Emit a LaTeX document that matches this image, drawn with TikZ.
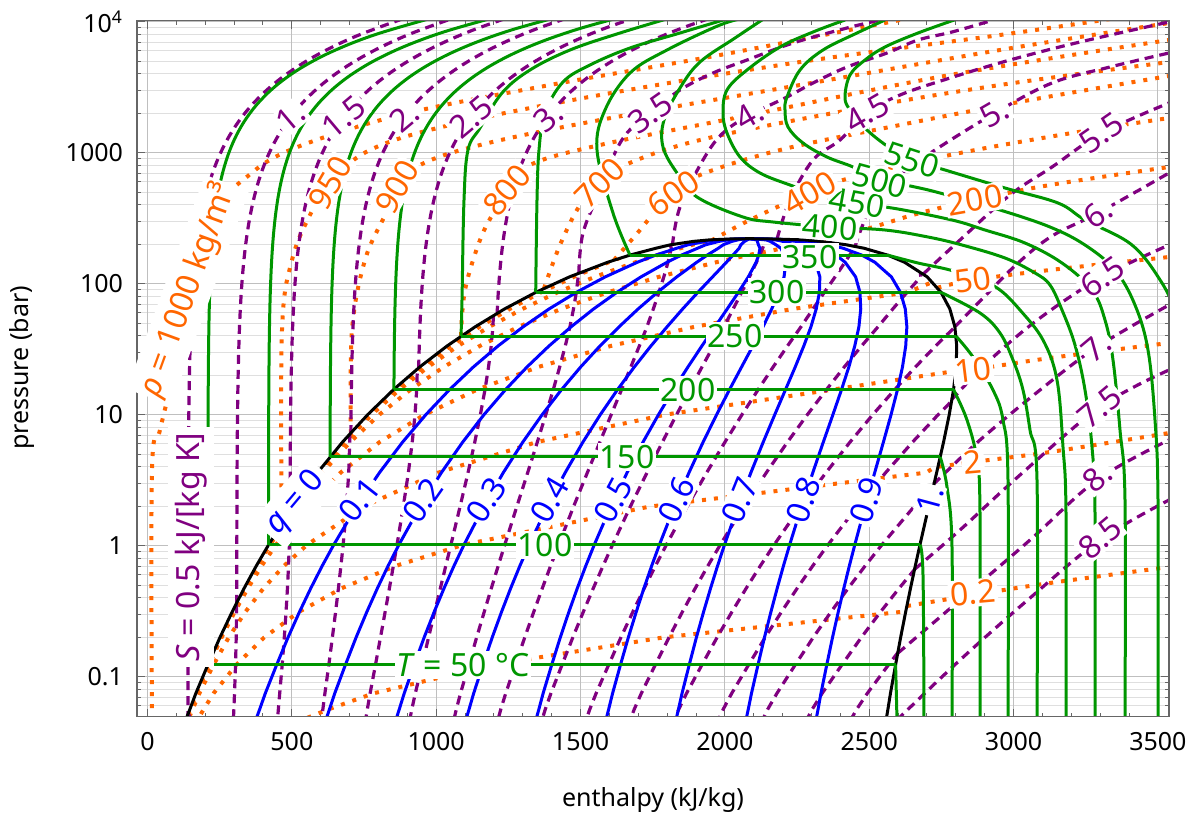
\documentclass[tikz,border=0pt]{standalone}
\usepackage{fontspec}
\setmainfont{Noto Sans}
\definecolor{tgreen}{RGB}{0,150,0}
\definecolor{spurple}{RGB}{128,0,128}
\definecolor{rorange}{RGB}{255,102,0}
% enthalpy -> x pixel, pressure -> y pixel
\newcommand\hX[1]{147.5+0.2887*(#1)}
\newcommand\pY[1]{545.7-131*log10(#1)}
% saturation table: T/p/hf/hg/sf/sg/vf/vg
\newcommand\satA{32/0.04760/134.0/2559.0/0.4648/8.3960/0.001005/29.52,
35/0.05629/146.6/2564.6/0.5049/8.3517/0.001006/25.20,
40/0.07384/167.5/2573.5/0.5724/8.2555/0.001008/19.52,
50/0.12352/209.3/2591.3/0.7038/8.0748/0.001012/12.03,
60/0.19946/251.1/2608.8/0.8313/7.9081/0.001017/7.667,
70/0.31201/293.0/2626.1/0.9551/7.7540/0.001023/5.040,
80/0.47414/334.9/2643.0/1.0756/7.6111/0.001029/3.405,
90/0.70182/376.9/2659.5/1.1929/7.4781/0.001036/2.359,
100/1.0142/419.2/2675.6/1.3072/7.3541/0.001043/1.672,
120/1.9867/503.8/2705.9/1.5279/7.1291/0.001060/0.8915,
140/3.6154/589.2/2733.5/1.7392/6.9272/0.001080/0.5085,
160/6.1823/675.5/2757.4/1.9426/6.7477/0.001102/0.3071,
180/10.028/763.1/2777.2/2.1392/6.5841/0.001127/0.1939,
200/15.549/852.3/2792.0/2.3305/6.4302/0.001157/0.1272,
220/23.196/943.6/2801.1/2.5177/6.2852/0.001190/0.08609,
240/33.469/1037.6/2803.0/2.7020/6.1423/0.001229/0.05967,
260/46.88/1135.0/2796.6/2.8849/5.9990/0.001276/0.04219,
280/64.17/1236.7/2779.2/3.0680/5.8571/0.001332/0.03016,
300/85.88/1344.8/2748.7/3.2548/5.7059/0.001404/0.02166,
320/112.79/1461.8/2700.6/3.4491/5.5372/0.001499/0.01548,
340/145.94/1594.5/2622.0/3.6601/5.3356/0.001638/0.01080,
350/165.29/1670.9/2563.6/3.7784/5.2110/0.001740/0.008813,
360/186.66/1761.5/2481.5/3.9167/5.0536/0.001895/0.006945,
365/198.3/1812.0/2420.0/4.0012/4.9398/0.002017/0.0058,
370/210.44/1890.7/2334.5/4.1112/4.8012/0.002215/0.004953,
372/215.9/1945.0/2276.0/4.18/4.72/0.00239/0.00436,
373.5/219.6/2020.0/2160.0/4.30/4.52/0.0027/0.0036}
\newcommand\vapA{373.5/219.6/2160, 372/215.9/2276, 370/210.44/2334.5,
365/198.3/2420, 360/186.66/2481.5, 350/165.29/2563.6, 340/145.94/2622.0,
320/112.79/2700.6, 300/85.88/2748.7, 280/64.17/2779.2, 260/46.88/2796.6,
240/33.469/2803.0, 220/23.196/2801.1, 200/15.549/2792.0, 180/10.028/2777.2,
160/6.1823/2757.4, 140/3.6154/2733.5, 120/1.9867/2705.9, 100/1.0142/2675.6,
90/0.70182/2659.5, 80/0.47414/2643.0, 70/0.31201/2626.1, 60/0.19946/2608.8,
50/0.12352/2591.3, 40/0.07384/2573.5, 35/0.05629/2564.6, 32/0.04760/2559.0}
\begin{document}
\begin{tikzpicture}[x=0.5pt,y=-0.5pt,
    isoT/.style={draw=tgreen,line width=1.5pt},
    isoS/.style={draw=spurple,line width=1.6pt,dash pattern=on 4.5pt off 3pt},
    isoR/.style={draw=rorange,line width=2pt,dash pattern=on 2pt off 4pt},
    isoQ/.style={draw=blue,line width=1.5pt},
    satline/.style={draw=black,line width=1.5pt},
    lab/.style={fill=white,inner sep=1pt,font=\fontsize{16}{16}\selectfont},
    tlab/.style={lab,text=tgreen},
    slab/.style={lab,text=spurple},
    rlab/.style={lab,text=rorange},
    qlab/.style={lab,text=blue},
    ticklab/.style={font=\fontsize{12.5}{13}\selectfont},
    tick/.style={draw=gray!80!black,line width=0.5pt},
    smooth,tension=0.6]
\useasboundingbox (0,0) rectangle (1200,820);
\coordinate (crit) at ({\hX{2084.3}},{\pY{220.64}});

\begin{scope}
\clip (137,20.7) rectangle (1169,716.7);
% grid
\foreach \e in {-2,...,3} \foreach \m in {2,...,9}
  \draw[gray!25,line width=0.4pt] (137,{545.7-131*(log10(\m)+\e)}) -- (1169,{545.7-131*(log10(\m)+\e)});
\foreach \e in {-1,...,4}
  \draw[gray!50,line width=0.5pt] (137,{545.7-131*\e}) -- (1169,{545.7-131*\e});
\foreach \h in {0,500,...,3500}
  \draw[gray!50,line width=0.5pt] ({\hX{\h}},20.7) -- ({\hX{\h}},716.7);
% ticks
\foreach \h in {0,100,...,3500}
  \draw[tick] ({\hX{\h}},716.7) -- ++(0,-4) ({\hX{\h}},20.7) -- ++(0,4);
\foreach \h in {0,500,...,3500}
  \draw[tick] ({\hX{\h}},716.7) -- ++(0,-8) ({\hX{\h}},20.7) -- ++(0,8);
\foreach \e in {-2,...,3} \foreach \m in {2,...,9}
  \draw[tick] (137,{545.7-131*(log10(\m)+\e)}) -- ++(4,0) (1169,{545.7-131*(log10(\m)+\e)}) -- ++(-4,0);
\foreach \e in {-1,...,4}
  \draw[tick] (137,{545.7-131*\e}) -- ++(8,0) (1169,{545.7-131*\e}) -- ++(-8,0);

% density, outside the dome
\draw[isoR] plot coordinates {(152,720) (152,470) (160,430) (172,380) (185,320) (200,260) (220,205) (243,180) (290,150) (400,115) (550,85) (720,55) (900,20)};
\draw[isoR] plot coordinates {(281.7,523.4) (282,330) (292,260) (310,215) (330,183) (370,150) (450,125) (600,95) (800,62) (1000,35) (1110,19)};
\draw[isoR] plot coordinates {(350.8,433.4) (352,330) (365,260) (385,215) (397,187) (420,165) (480,145) (600,120) (800,85) (1000,50) (1169,23)};
\draw[isoR] plot coordinates {(461,336.2) (465,290) (480,240) (495,210) (507,190) (530,165) (600,145) (750,115) (950,75) (1169,40)};
\draw[isoR] plot coordinates {(544,288.5) (560,245) (580,205) (600,183) (625,165) (700,140) (850,110) (1000,85) (1169,62)};
\draw[isoR] plot coordinates {(614,260) (640,230) (660,205) (673,193) (700,175) (780,150) (900,125) (1030,100) (1169,76)};
\draw[isoR] plot coordinates {(711.4,240.5) (740,225) (775,208) (810,193) (850,178) (950,155) (1060,135) (1169,118)};
\draw[isoR] plot coordinates {(822,241.4) (870,228) (920,213) (975,200) (1050,185) (1169,167)};
\draw[isoR] plot coordinates {(937.4,287.8) (973,280) (1050,270) (1169,257)};
\draw[isoR] plot coordinates {(955,374.4) (973,370) (1050,358) (1169,343)};
\draw[isoR] plot coordinates {(938,466.8) (973,462) (1050,452) (1169,433)};
\draw[isoR] plot coordinates {(907,606) (973,595) (1050,583) (1169,567)};

% entropy, outside the dome
\foreach \xa/\ya in {188/720, 236.7/603.9, 289.8/510.7, 350.2/434.2, 417.1/368.7, 493.7/314.7}
  \draw[isoS] plot[domain=\ya:18,samples=40] ({\xa+0.13*pow(10,0.8*(545.7-\x)/131)},\x);
\draw[isoS] plot coordinates {(578.8,273.3) (583,233) (600,190) (613,157) (627,133) (650,113) (680,90) (713,73) (747,60) (793,43) (847,28) (880,20)};
\draw[isoS] plot coordinates {(672.4,245.3) (680,207) (703,160) (723,133) (750,115) (787,97) (813,83) (847,67) (887,53) (918,40) (952,32) (990,21)};
\draw[isoS] plot coordinates {(777,239) (790,200) (813,160) (840,140) (867,113) (900,95) (950,78) (1010,60) (1080,42) (1169,22)};
\draw[isoS] plot coordinates {(855,246.8) (870,210) (900,175) (935,150) (995,113) (1052,83) (1110,67) (1169,53)};
\draw[isoS] plot coordinates {(923.5,273.8) (960,240) (1010,195) (1052,167) (1102,133) (1169,103)};
\draw[isoS] plot coordinates {(955,326.7) (988,293) (1018,263) (1052,236) (1098,213) (1169,173)};
\draw[isoS] plot coordinates {(951.5,399.8) (990,360) (1040,318) (1102,277) (1169,245)};
\draw[isoS] plot coordinates {(933.6,484.1) (980,440) (1040,390) (1097,347) (1169,305)};
\draw[isoS] plot coordinates {(914.6,569.3) (960,530) (1020,475) (1100,407) (1169,370)};
\draw[isoS] plot coordinates {(898,653) (960,600) (1030,540) (1097,480) (1169,440)};
\draw[isoS] plot coordinates {(897,720) (960,660) (1030,598) (1100,540) (1169,500)};

% inside the dome
\begin{scope}
\clip (0,820) \foreach \tc/\p/\hF/\hG/\sF/\sG/\vF/\vG in \satA {-- ({\hX{\hF}},{\pY{\p}})} -- (crit)
  \foreach \tc/\p/\hG in \vapA {-- ({\hX{\hG}},{\pY{\p}})} -- cycle;
\foreach \r in {950,900,800,700,600,400,200,50,10,2,0.2}
  \draw[isoR,sharp plot] (0,820) \foreach \tc/\p/\hF/\hG/\sF/\sG/\vF/\vG in \satA
    {-- ({\hX{\hF+max(-0.05,min(1.05,(1/\r-\vF)/(\vG-\vF)))*(\hG-\hF)}},{\pY{\p}})};
\foreach \s in {0.5,1,...,8.5}
  \draw[isoS,sharp plot] (0,820) \foreach \tc/\p/\hF/\hG/\sF/\sG/\vF/\vG in \satA
    {-- ({\hX{\hF+max(-0.05,min(1.05,(\s-\sF)/(\sG-\sF)))*(\hG-\hF)}},{\pY{\p}})};
\end{scope}

% quality
\foreach \q in {0.1,0.2,...,0.9}
  \draw[isoQ,sharp plot] (0,820) \foreach \tc/\p/\hF/\hG/\sF/\sG/\vF/\vG in \satA
    {-- ({\hX{\hF+\q*(\hG-\hF)}},{\pY{\p}})} -- (crit);

% saturation dome
\draw[satline,sharp plot] (0,820) \foreach \tc/\p/\hF/\hG/\sF/\sG/\vF/\vG in \satA {-- ({\hX{\hF}},{\pY{\p}})} -- (crit)
  \foreach \tc/\p/\hG in \vapA {-- ({\hX{\hG}},{\pY{\p}})};

% isotherms
\foreach \xa/\ya in {207.9/664.7, 268.5/544.9, 330/456.9, 393.6/389.6}
  \draw[isoT] plot[domain=\ya:18,samples=40] ({\xa+0.021*pow(10,(545.7-\x)/131)},\x);
\foreach \xa/\xb/\ya in {207.9/895.6/664.7, 268.5/920/544.9, 330/940.2/456.9, 393.6/953.5/389.6,
    461/956.1/336.2, 535.7/941.1/292.4, 630/887.6/255.1}
  \draw[isoT] (\xa,\ya) -- (\xb,\ya);
\draw[isoT] (895.6,664.7) -- (897,720);
\draw[isoT] plot coordinates {(920,544.9) (923,575) (924,720)};
\draw[isoT] plot coordinates {(940.2,456.9) (947,487) (952,547) (952,720)};
\draw[isoT] plot coordinates {(953.5,389.6) (967,420) (977,460) (980,513) (980,720)};
\draw[isoT] plot coordinates {(670,18) (620,33) (570,50) (530,70) (502,93) (480,128) (468,150) (464,200) (462,300) (461,336.2)};
\draw[isoT] plot coordinates {(956.1,336.2) (973,357) (993,390) (1003,420) (1008,480) (1008,720)};
\draw[isoT] plot coordinates {(730,18) (680,33) (630,48) (590,65) (563,82) (545,113) (539,150) (537,200) (535.7,292.4)};
\draw[isoT] plot coordinates {(941.1,292.4) (980,313) (1000,333) (1013,360) (1023,390) (1030,430) (1037,480) (1037,720)};
\draw[isoT] plot coordinates {(745,18) (720,25) (667,50) (630,73) (605,110) (597,150) (613,213) (630,255.1)};
\draw[isoT] plot coordinates {(887.6,255.1) (918,263) (950,270) (980,280) (1000,290) (1020,310) (1043,340) (1057,380) (1063,447) (1066,513) (1066,720)};
\draw[isoT] plot coordinates {(765,18) (735,38) (700,62) (680,88) (664,120) (663,147) (677,173) (697,197) (743,217) (773,222) (830,227) (885,230) (928,237) (962,245) (1005,258) (1035,273) (1050,285) (1062,310) (1075,345) (1085,390) (1092,447) (1095,513) (1095,720)};
\draw[isoT] plot coordinates {(845,20) (813,32) (780,47) (747,70) (727,90) (723,113) (727,133) (740,157) (760,173) (790,185) (820,195) (847,203) (892,208) (952,220) (985,230) (1025,243) (1062,263) (1092,290) (1105,320) (1113,360) (1120,430) (1125,500) (1125,720)};
\draw[isoT] plot coordinates {(885,20) (857,33) (823,50) (800,70) (787,97) (785,110) (788,127) (803,143) (827,157) (853,167) (870,177) (895,183) (915,187) (940,193) (1000,210) (1050,227) (1085,245) (1115,270) (1135,305) (1148,350) (1155,420) (1158,500) (1158,720)};
\draw[isoT] plot coordinates {(960,18) (918,33) (885,47) (865,60) (850,75) (845,97) (850,110) (867,130) (890,148) (912,160) (945,170) (1005,188) (1058,203) (1085,220) (1132,245) (1162,283) (1180,320)};
\end{scope}

% frame
\draw[gray!80!black,line width=0.6pt] (137,20.7) rectangle (1169,716.7);

% labels of the isotherms
\node[tlab] (t50) at (463,665) {\textit{T} = 50 °C};
\node[tlab] (t100) at (545,545) {100};
\node[tlab] (t150) at (627,457) {150};
\node[tlab] (t200) at (688,390) {200};
\node[tlab] (t250) at (735,336) {250};
\node[tlab] (t300) at (777,292) {300};
\node[tlab] (t350) at (810,257) {350};
\node[tlab,rotate=-5] (t400) at (830,227) {400};
\node[tlab,rotate=-10] (t450) at (857,203) {450};
\node[tlab,rotate=-15] (t500) at (880,181) {500};
\node[tlab,rotate=-18] (t550) at (912,160) {550};

% labels of the isentropes
\node[slab,rotate=90,inner ysep=3.5pt,inner xsep=3pt] (s05) at (191,547) {\textit{S} = 0.5 kJ/[kg K]};
\foreach \sl/\xs/\ys/\rs in {1./291/117/40, 1.5/344/117/40, 2./404/117/40, 2.5/471/117/40, 3./548/117/40,
    3.5/650/113/35, 4./750/115/30, 4.5/867/113/30, 5./995/113/30, 5.5/1102/133/35, 6./1098/213/35,
    6.5/1102/277/35, 7./1097/347/40, 7.5/1100/407/40, 8./1097/477/40, 8.5/1100/538/40}
  \node[slab,rotate=\rs] (s\sl) at (\xs,\ys) {\sl};

% labels of the isochores
\node[rlab,rotate=70,inner ysep=3pt] (r1000) at (188,290) {\textit{ρ} = 1000 kg/m³};
\foreach \rl/\xr/\yr/\rr in {950/330/183/60, 900/397/187/60, 800/507/190/50, 700/600/183/45,
    600/673/193/35, 400/810/193/30, 200/975/200/10, 50/973/280/8, 10/973/370/7, 2/973/462/5, 0.2/973/593/5}
  \node[rlab,rotate=\rr] (r\rl) at (\xr,\yr) {\rl};

% labels of the quality lines
\node[qlab,rotate=50,inner sep=3pt] (q0) at (296,503) {\textit{q} = 0};
\foreach \ql/\xq/\rq in {0.1/359.6/52, 0.2/423/55, 0.3/486.3/57, 0.4/549.7/60, 0.5/613/62,
    0.6/676.5/65, 0.7/739.9/68, 0.8/803.2/70, 0.9/866.6/72, 1./930/75}
  \node[qlab,rotate=\rq] (q\ql) at (\xq,500) {\ql};

% axes
\foreach \h in {0,500,...,3500}
  \node[ticklab,anchor=north] (xl\h) at ({\hX{\h}},725) {\h};
\foreach \pv/\pl in {0.1/0.1, 1/1, 10/10, 100/100, 1000/1000}
  \node[ticklab,anchor=east] (yl\pl) at (130,{\pY{\pv}}) {\pl};
\node[ticklab,anchor=east] (yl4) at (130,21.7) {10\textsuperscript{4}};
\node[ticklab] (xtitle) at (653,800) {enthalpy (kJ/kg)};
\node[ticklab,rotate=90] (ytitle) at (22,368) {pressure (bar)};
\end{tikzpicture}
\end{document}
